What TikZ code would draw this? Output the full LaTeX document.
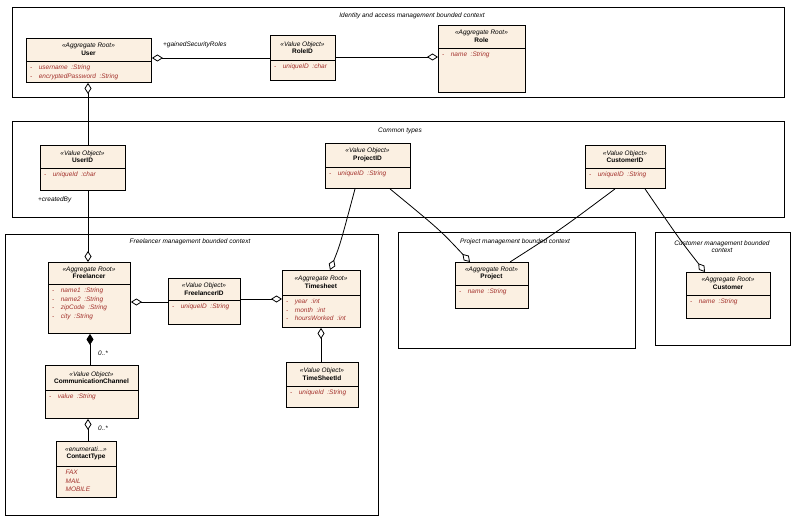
\documentclass[tikz,border=0pt]{standalone}
\usepackage{fontspec}
\setmainfont{Liberation Sans}
\usetikzlibrary{arrows.meta}
\definecolor{cream}{HTML}{FBF0E2}
\definecolor{attr}{HTML}{A3302B}
\tikzset{
  ctx/.style={draw,line width=1pt},
  ctxt/.style={font=\fontsize{6.5}{7}\selectfont\itshape,align=center},
  cbox/.style={draw,line width=0.9pt,fill=cream},
  hdr/.style={font=\fontsize{6.5}{7.5}\selectfont,align=center,inner sep=0pt},
  att/.style={font=\fontsize{6.5}{8.5}\selectfont\itshape,text=attr,align=left,anchor=north west,inner sep=0pt},
  lbl/.style={font=\fontsize{6.5}{7}\selectfont\itshape,inner sep=1pt},
  agg/.style={{Diamond[open,fill=white,length=11pt,width=7pt]}-,line width=0.8pt},
  comp/.style={{Diamond[length=11pt,width=7pt]}-,line width=0.8pt},
  con/.style={line width=0.8pt}
}
% name, x1,y1,x2,y2, header-bottom y, stereotype, title, attrs
\newcommand{\umlclass}[9]{%
  \node[cbox,minimum width={#4-#2},minimum height={#5-#3},anchor=north west,inner sep=0pt] (#1) at (#2,#3) {};
  \draw[line width=0.9pt] (#2,#6) -- (#4,#6);
  \node[hdr] (#1h) at ({(#2+#4)/2},{(#3+#6)/2}) {\textit{«#7»}\\ \textbf{#8}};
  \node[att] (#1a) at (#2+4,#6+4) {#9};
}
\begin{document}
\begin{tikzpicture}[x=1pt,y=-1pt]
\useasboundingbox (0,0) rectangle (800,521);
% contexts
\draw[ctx] (12,8) rectangle (784,98);
\node[ctxt] (t1) at (412,16) {Identity and access management bounded context};
\draw[ctx] (12,122) rectangle (784,218);
\node[ctxt] (t2) at (400,131) {Common types};
\draw[ctx] (5,235) rectangle (378,515);
\node[ctxt] (t3) at (190,242) {Freelancer management bounded context};
\draw[ctx] (398,233) rectangle (635,348);
\node[ctxt] (t4) at (515,242) {Project management bounded context};
\draw[ctx] (655,233) rectangle (790,345);
\node[ctxt] (t5) at (722,247) {Customer management bounded\\context};
% classes
\umlclass{user}{26}{38}{151}{82}{61}{Aggregate Root}{User}{-\quad username \ :String\\-\quad encryptedPassword \ :String}
\umlclass{roleid}{270}{35}{335}{80}{60}{Value Object}{RoleID}{-\quad uniqueID \ :char}
\umlclass{role}{438}{25}{525}{92}{48}{Aggregate Root}{Role}{-\quad name \ :String}
\umlclass{userid}{40}{145}{125}{190}{168}{Value Object}{UserID}{-\quad uniqueId \ :char}
\umlclass{projectid}{325}{143}{410}{188}{167}{Value Object}{ProjectID}{-\quad uniqueID \ :String}
\umlclass{customerid}{585}{145}{665}{188}{168}{Value Object}{CustomerID}{-\quad uniqueID \ :String}
\umlclass{freelancer}{48}{262}{130}{333}{284}{Aggregate Root}{Freelancer}{-\quad name1 \ :String\\-\quad name2 \ :String\\-\quad zipCode \ :String\\-\quad city \ :String}
\umlclass{freelancerid}{168}{278}{240}{324}{300}{Value Object}{FreelancerID}{-\quad uniqueID \ :String}
\umlclass{timesheet}{282}{270}{360}{327}{295}{Aggregate Root}{Timesheet}{-\quad year \ :int\\-\quad month \ :int\\-\quad hoursWorked \ :int}
\umlclass{comm}{45}{365}{138}{418}{390}{Value Object}{CommunicationChannel}{-\quad value \ :String}
\umlclass{tsid}{286}{362}{358}{407}{386}{Value Object}{TimeSheetId}{-\quad uniqueId \ :String}
\umlclass{contact}{56}{441}{116}{497}{466}{enumerati...}{ContactType}{\ \ \ FAX\\\ \ \ MAIL\\\ \ \ MOBILE}
\umlclass{project}{455}{262}{528}{308}{285}{Aggregate Root}{Project}{-\quad name \ :String}
\umlclass{customer}{686}{272}{770}{318}{295}{Aggregate Root}{Customer}{-\quad name \ :String}
% connectors
\draw[agg] (user.east |- 0,58) -- (roleid.west |- 0,58);
\draw[agg] (role.west |- 0,57) -- (roleid.east |- 0,57);
\node[lbl,anchor=west] (l1) at (162,45) {+gainedSecurityRoles};
\draw[agg] (user.south -| 88,0) -- (userid.north -| 88,0);
\draw[agg] (freelancer.north -| 88,0) -- (userid.south -| 88,0);
\node[lbl,anchor=west] (l2) at (37,200) {+createdBy};
\draw[agg] (timesheet.north -| 330,0) .. controls (340,245) .. (projectid.south -| 355,0);
\draw[agg] (project.north -| 470,0) .. controls (440,230) .. (projectid.south -| 390,0);
\draw[con] (project.north -| 510,0) .. controls (560,230) .. (customerid.south -| 615,0);
\draw[agg] (customer.north -| 705,0) .. controls (680,240) .. (customerid.south -| 645,0);
\draw[agg] (freelancer.east |- 0,302) -- (freelancerid.west |- 0,302);
\draw[agg] (timesheet.west |- 0,299) -- (freelancerid.east |- 0,299);
\draw[agg] (timesheet.south -| 321,0) -- (tsid.north -| 321,0);
\draw[comp] (freelancer.south -| 90,0) -- (comm.north -| 90,0);
\draw[agg] (comm.south -| 88,0) -- (contact.north -| 88,0);
\node[lbl,anchor=west] (l3) at (97,353) {0..*};
\node[lbl,anchor=west] (l4) at (97,428) {0..*};
\end{tikzpicture}
\end{document}
